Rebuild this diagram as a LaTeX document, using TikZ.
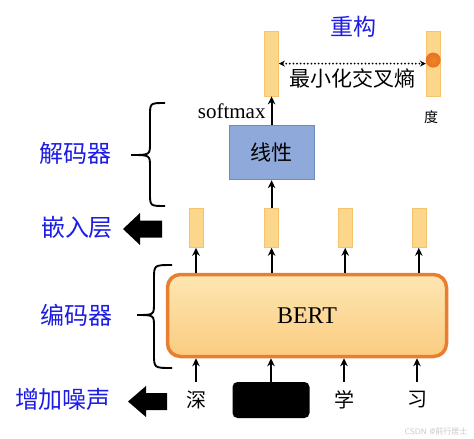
\documentclass[tikz,border=0pt]{standalone}
\usepackage{fontspec}
\setmainfont{Liberation Serif}
\newfontfamily\cjk{Noto Sans CJK SC}
\usetikzlibrary{arrows.meta, positioning}
\definecolor{labelblue}{RGB}{28,28,228}
\definecolor{barfill}{RGB}{252,214,138}
\definecolor{bardraw}{RGB}{245,196,108}
\definecolor{linfill}{RGB}{143,169,219}
\definecolor{lindraw}{RGB}{108,138,196}
\definecolor{bertdraw}{RGB}{233,125,48}
\definecolor{berttop}{RGB}{253,230,178}
\definecolor{bertbot}{RGB}{251,204,128}
\definecolor{dotcol}{RGB}{233,112,40}
\tikzstyle{vec}=[draw=bardraw, fill=barfill, line width=0.6pt, minimum width=14pt, inner sep=0pt]
\tikzstyle{lbl}=[text=labelblue, font=\cjk\fontsize{24}{24}\selectfont]
\tikzstyle{tok}=[font=\cjk\fontsize{20}{20}\selectfont, minimum height=36pt, inner sep=0pt]
\tikzstyle{feed}=[-{Stealth[length=8pt,width=7.5pt]}, line width=2.2pt]
\tikzstyle{curly}=[line width=1.9pt]

\begin{document}
\begin{tikzpicture}[x=1pt, y=-1pt]
  \useasboundingbox (0,0) rectangle (474,439);
  % encoder and inputs
  \node[draw=bertdraw, line width=3.5pt, rounded corners=13pt, top color=berttop, bottom color=bertbot,
        minimum width=279pt, minimum height=82pt, font=\fontsize{24}{24}\selectfont] (bert) at (307,315.5) {BERT};
  \node[tok] (t1) at (196,400) {深};
  \node[fill=black, rounded corners=5pt, minimum width=77pt, minimum height=36pt, inner sep=0pt] (mask) at (271,400) {};
  \node[tok] (t3) at (344,400) {学};
  \node[tok] (t4) at (417,400) {习};
  \draw[feed] (t1.north) -- (t1 |- bert.south);
  \draw[feed] (mask.north) -- (mask.north |- bert.south);
  \draw[feed] (t3.north) -- (t3 |- bert.south);
  \draw[feed] (t4.north) -- (t4 |- bert.south);
  % embeddings
  \node[vec, minimum height=39pt] (e1) at (196,228) {};
  \node[vec, minimum height=39pt] (e2) [right=61pt of e1] {};
  \node[vec, minimum height=39pt] (e3) [right=59pt of e2] {};
  \node[vec, minimum height=39pt] (e4) [right=59pt of e3] {};
  \draw[feed] (e1 |- bert.north) -- (e1.south);
  \draw[feed] (e2 |- bert.north) -- (e2.south);
  \draw[feed] (e3 |- bert.north) -- (e3.south);
  \draw[feed] (e4 |- bert.north) -- (e4.south);
  % decoder
  \node[draw=lindraw, fill=linfill, line width=0.8pt, minimum width=85pt, minimum height=54pt,
        font=\cjk\fontsize{21}{21}\selectfont] (lin) [above=28pt of e2] {线性};
  \draw[feed] (e2) -- (lin);
  \node[vec, minimum height=65pt] (o1) [above=29pt of lin] {};
  \node[vec, minimum height=65pt] (o2) [right=147pt of o1] {};
  \draw[feed] (lin) -- node[left, inner sep=5pt, font=\fontsize{21}{21}\selectfont] (sm) {softmax} (o1);
  \node[circle, minimum size=15pt, inner sep=0pt, inner color=dotcol!85!yellow, outer color=dotcol] (dot) at ([yshift=3.5pt]o2.center) {};
  \draw[{Stealth[length=6pt,width=6pt]}-{Stealth[length=6pt,width=6pt]}, line width=2pt, line cap=round,
        dash pattern=on 0pt off 3.6pt] (o1) -- node[below, yshift=-1pt, font=\cjk\fontsize{21}{21}\selectfont] (ce) {最小化交叉熵} (o2);
  \node[lbl, font=\cjk\fontsize{23}{23}\selectfont] (rec) at (353,27) {重构};
  \node[font=\cjk\fontsize{14}{14}\selectfont] (du) at (431,117) {度};
  % left side
  \node[lbl] (dec) at (75,153) {解码器};
  \node[lbl] (emb) at (77,227) {嵌入层};
  \node[lbl] (enc) at (76,315) {编码器};
  \node[lbl] (noise) at (63,399) {增加噪声};
  \draw[curly] (165,103) .. controls (150,103) .. (150,116) -- (150,143) .. controls (150,155) .. (131,155)
               .. controls (150,155) .. (150,167) -- (150,193) .. controls (150,206) .. (165,206);
  \draw[curly] (172,265) .. controls (154,265) .. (154,279) -- (154,303) .. controls (154,315) .. (137,315)
               .. controls (154,315) .. (154,327) -- (154,354) .. controls (154,368) .. (172,368);
  \fill (162,220.5) -- (140,220.5) -- (140,213) -- (123,229) -- (140,245) -- (140,237.5) -- (162,237.5) -- cycle;
  \fill (167,393) -- (146,393) -- (146,386) -- (128,401.5) -- (146,417) -- (146,410) -- (167,410) -- cycle;
  \node[text=black!22, font=\sffamily\fontsize{8}{8}\selectfont] (wm) at (436,431) {CSDN @{\cjk 前行居士}};
\end{tikzpicture}
\end{document}
